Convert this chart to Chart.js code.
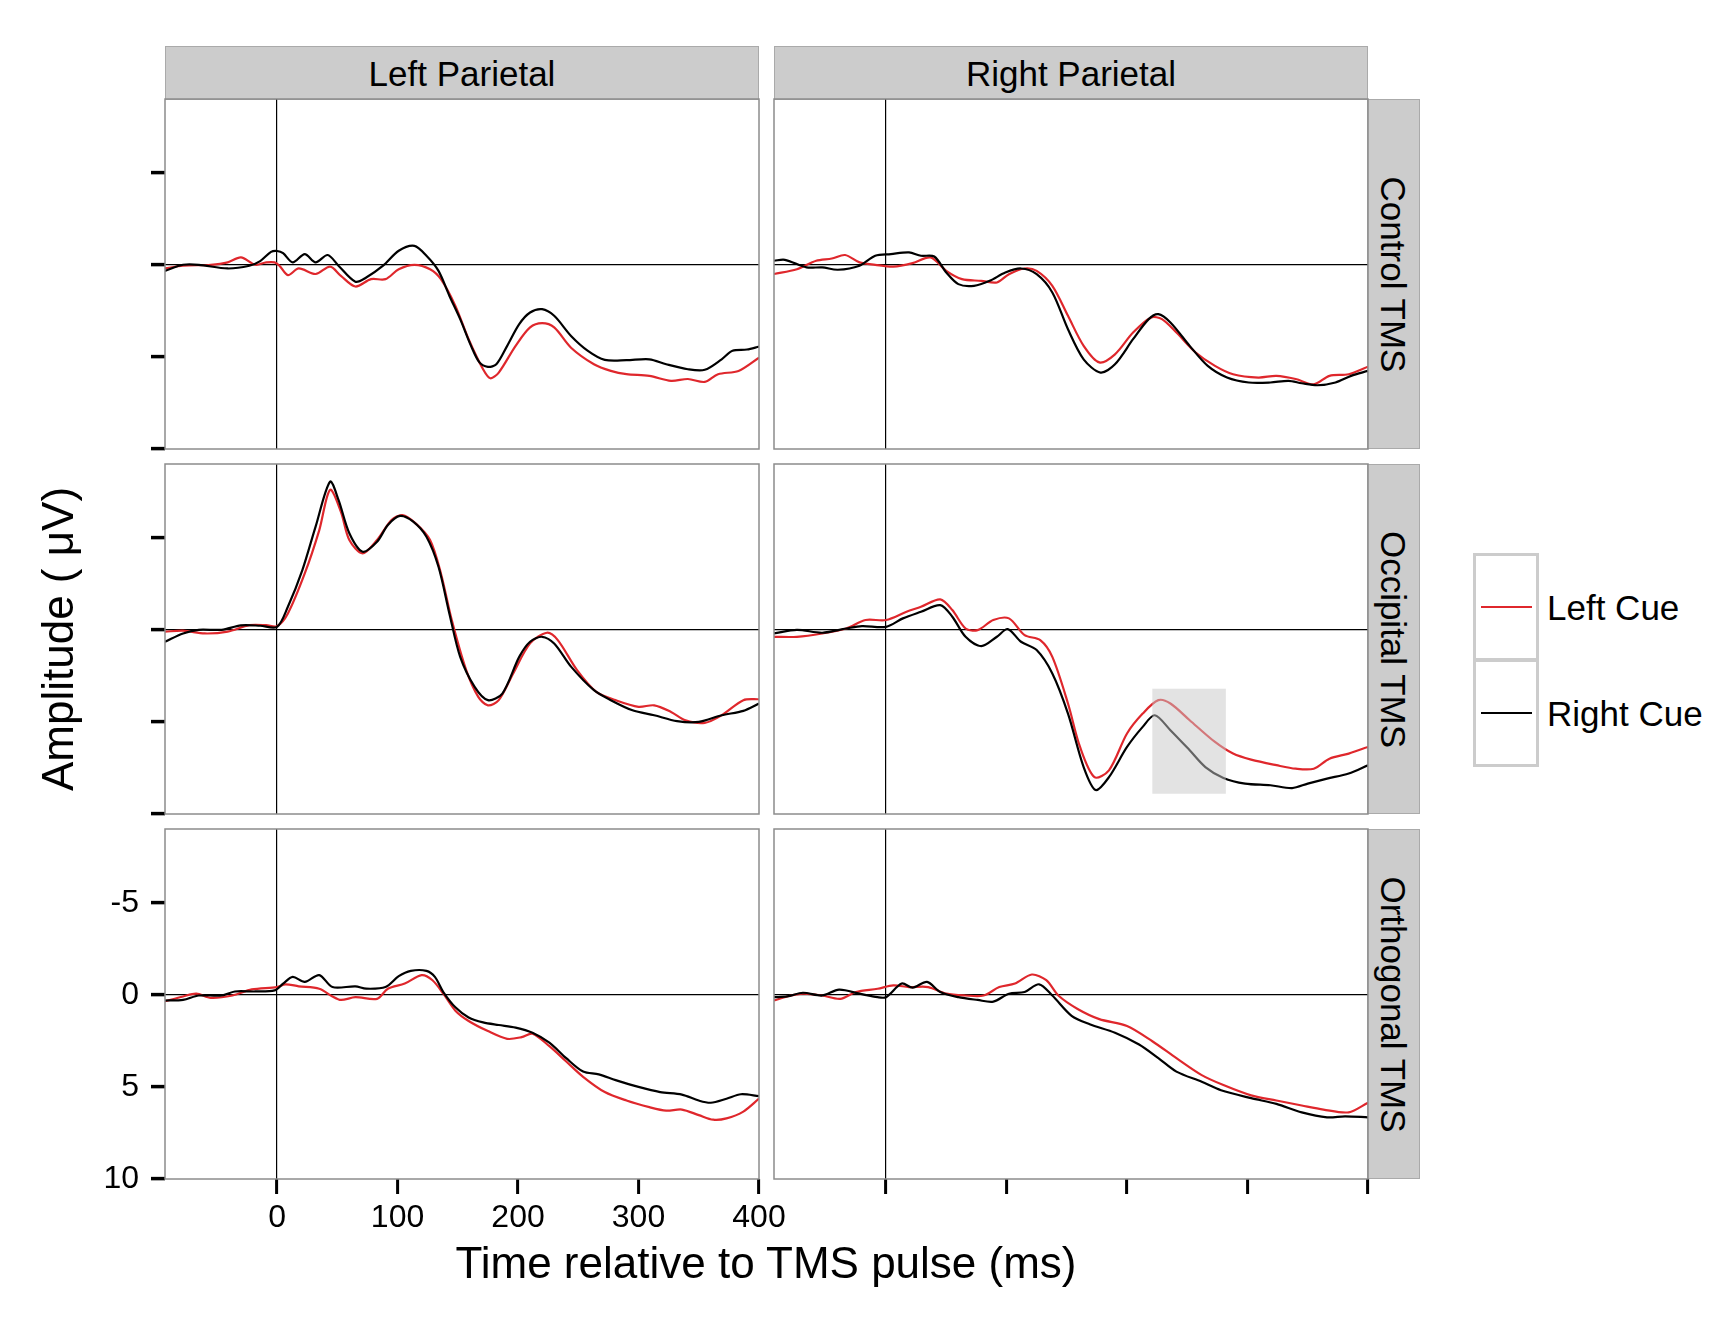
<!DOCTYPE html>
<html>
<head>
<meta charset="utf-8">
<script src="https://cdn.jsdelivr.net/npm/chart.js@4.4.4/dist/chart.umd.min.js"></script>
<style>
  body { margin: 0; background: #fff; }
  #fig {
    position: relative; width: 1736px; height: 1343px; overflow: hidden;
    font-family: 'Liberation Sans', Arial, Helvetica, sans-serif; color: #000;
  }
  #fig canvas { position: absolute; }
  .strip {
    position: absolute; box-sizing: border-box; background: #cccccc;
    border: 1.5px solid #aaaaaa; font-size: 35px; line-height: 35px;
    display: flex; align-items: center; justify-content: center; white-space: nowrap;
  }
  .strip.side span { display: block; transform: rotate(90deg); }
  .title { position: absolute; font-size: 44px; line-height: 44px; text-align: center; white-space: nowrap; }
  .key { position: absolute; box-sizing: border-box; border: 3px solid #cccccc; background: #fff; }
  .keyline { position: absolute; height: 2px; }
  .keylabel { position: absolute; font-size: 35px; line-height: 35px; white-space: nowrap; }
</style>
</head>
<body>
<div id="fig"></div>
<script>
const sites = ['Left Parietal', 'Right Parietal'];
const conditions = ['Control TMS', 'Occipital TMS', 'Orthogonal TMS'];
const cues = ['Left Cue', 'Right Cue'];
const cueColors = ['#df272c', '#000000'];

const timeRange = [-93, 400];
const timeTicks = [0, 100, 200, 300, 400];
const ampRange = [-9, 10];
const ampTicks = [-5, 0, 5, 10];

// shaded window in the occipital / right parietal panel
const highlightTime = [221, 282];
const highlightAmp = [3.2, 8.9];

// [ms, µV]
const ctrlLeftParLeftCue = [[-93,0.2],[-78,0.05],[-55,0],[-41,-0.13],[-30,-0.4],[-18,0],[-9,-0.13],[-2,-0.13],[2,0.05],[9,0.56],[18,0.2],[32,0.5],[44,0.1],[53,0.6],[65,1.18],[78,0.78],[90,0.78],[101,0.24],[114,0],[127,0.24],[136,0.78],[148,2.23],[159,4.04],[171,5.67],[177,6.16],[184,5.85],[198,4.4],[210,3.4],[220,3.17],[230,3.4],[244,4.5],[263,5.4],[277,5.76],[290,5.94],[309,6.03],[327,6.3],[341,6.2],[355,6.36],[366,5.94],[383,5.76],[400,5.04]];
const ctrlLeftParRightCue = [[-93,0.33],[-78,0],[-65,0],[-41,0.2],[-23,0.05],[-14,-0.2],[-5,-0.7],[0,-0.75],[5,-0.63],[13,-0.13],[23,-0.58],[32,-0.13],[42,-0.53],[51,0.05],[65,0.92],[74,0.69],[88,0.05],[101,-0.76],[114,-1.03],[124,-0.49],[134,0.33],[143,1.68],[152,2.95],[161,4.4],[168,5.3],[175,5.54],[182,5.4],[191,4.4],[201,3.22],[210,2.59],[220,2.41],[230,2.77],[244,3.86],[258,4.67],[272,5.16],[290,5.18],[309,5.13],[323,5.4],[341,5.67],[355,5.7],[369,5.13],[378,4.67],[390,4.6],[400,4.44]];
const ctrlRightParLeftCue = [[-93,0.5],[-74,0.24],[-58,-0.22],[-45,-0.34],[-34,-0.53],[-22,-0.13],[-9,0],[6,0.1],[22,-0.09],[37,-0.4],[50,0.33],[63,0.78],[79,0.87],[92,0.96],[102,0.51],[115,0.2],[125,0.33],[138,1.14],[151,2.77],[164,4.4],[177,5.3],[190,4.86],[205,3.68],[220,2.86],[229,2.95],[241,3.68],[257,4.76],[273,5.49],[288,5.94],[309,6.12],[324,6.03],[340,6.2],[355,6.49],[368,6.03],[384,5.94],[400,5.53]];
const ctrlRightParRightCue = [[-93,-0.22],[-84,-0.27],[-66,0.14],[-53,0.14],[-40,0.27],[-22,0.05],[-9,-0.49],[4,-0.58],[19,-0.67],[29,-0.49],[40,-0.45],[50,0.42],[60,1.05],[73,1.14],[86,0.87],[99,0.42],[112,0.2],[125,0.51],[138,1.5],[151,3.5],[164,5.13],[178,5.85],[190,5.4],[205,4.04],[218,2.95],[226,2.68],[236,3.13],[252,4.4],[267,5.49],[283,6.12],[301,6.39],[319,6.39],[334,6.3],[345,6.43],[358,6.54],[373,6.39],[386,6.03],[400,5.76]];

const occLeftParLeftCue = [[-93,0.1],[-78,0.05],[-60,0.2],[-41,0.1],[-23,-0.25],[-9,-0.25],[0,-0.2],[9,-0.89],[23,-3.06],[35,-5.4],[44,-7.6],[53,-6.4],[60,-4.87],[71,-4.15],[83,-4.87],[95,-5.96],[104,-6.23],[115,-5.78],[127,-4.87],[136,-3.06],[145,-0.53],[157,2.19],[167,3.64],[175,4.1],[184,3.82],[196,2.37],[210,0.74],[224,0.16],[233,0.56],[249,2.19],[265,3.37],[281,3.82],[300,4.18],[313,4.1],[327,4.46],[339,4.91],[355,5.05],[369,4.64],[387,3.82],[400,3.77]];
const occLeftParRightCue = [[-93,0.65],[-78,0.2],[-65,0],[-46,0],[-30,-0.24],[-14,-0.22],[0,-0.16],[9,-1.25],[21,-3.24],[32,-5.6],[44,-8.04],[51,-7.05],[60,-5.24],[71,-4.24],[83,-4.78],[92,-5.69],[102,-6.18],[113,-5.87],[124,-5.05],[134,-3.42],[143,-0.89],[152,1.47],[164,3.1],[175,3.82],[187,3.46],[201,1.47],[210,0.65],[220,0.38],[230,0.74],[244,2.0],[263,3.28],[277,3.82],[295,4.37],[313,4.64],[332,4.96],[350,5.0],[369,4.64],[387,4.4],[400,4.0]];
const occRightParLeftCue = [[-93,0.38],[-74,0.38],[-53,0.2],[-33,-0.07],[-17,-0.53],[0,-0.53],[17,-0.98],[29,-1.25],[45,-1.65],[55,-1.07],[66,-0.07],[76,0.02],[89,-0.53],[102,-0.62],[115,0.29],[128,0.56],[138,1.47],[151,4.0],[161,6.36],[173,8.0],[185,7.63],[200,5.63],[213,4.55],[226,3.82],[236,4.0],[252,4.91],[273,6.09],[288,6.72],[303,7.05],[324,7.35],[340,7.54],[355,7.54],[368,7.0],[384,6.72],[400,6.36]];
const occRightParRightCue = [[-93,0.2],[-74,0],[-53,0.16],[-33,-0.07],[-20,-0.2],[0,-0.16],[14,-0.62],[29,-0.98],[45,-1.34],[55,-0.71],[66,0.38],[79,0.89],[92,0.38],[101,-0.04],[112,0.65],[125,1.1],[138,2.37],[151,4.55],[164,7.45],[174,8.7],[185,8.0],[200,6.36],[213,5.27],[223,4.64],[236,5.45],[252,6.54],[265,7.45],[280,8.04],[298,8.35],[319,8.44],[337,8.59],[350,8.35],[366,8.08],[384,7.8],[400,7.35]];

const orthLeftParLeftCue = [[-93,0.35],[-78,0.09],[-67,-0.06],[-55,0.17],[-37,0.04],[-21,-0.29],[0,-0.42],[7,-0.57],[18,-0.46],[35,-0.33],[46,0.09],[53,0.28],[65,0.13],[83,0.22],[92,-0.33],[106,-0.61],[120,-1.07],[129,-0.79],[138,-0.06],[148,0.86],[159,1.42],[175,1.97],[191,2.39],[203,2.3],[212,2.11],[226,2.79],[240,3.62],[254,4.45],[272,5.28],[290,5.74],[309,6.1],[323,6.29],[336,6.23],[350,6.53],[362,6.78],[373,6.71],[387,6.34],[400,5.64]];
const orthLeftParRightCue = [[-93,0.31],[-78,0.28],[-65,0.04],[-46,0.04],[-35,-0.18],[-18,-0.18],[-2,-0.24],[5,-0.6],[13,-0.97],[23,-0.7],[35,-1.07],[46,-0.42],[65,-0.46],[74,-0.33],[90,-0.42],[101,-1.01],[111,-1.3],[124,-1.3],[131,-0.97],[138,-0.15],[148,0.68],[159,1.23],[171,1.5],[184,1.64],[198,1.78],[212,2.06],[226,2.6],[240,3.44],[254,4.17],[267,4.32],[281,4.63],[300,5.0],[318,5.28],[336,5.42],[350,5.74],[360,5.86],[373,5.64],[385,5.4],[400,5.5]];
const orthRightParLeftCue = [[-93,0.31],[-82,0.09],[-69,-0.06],[-53,0.04],[-38,0.22],[-25,-0.15],[-7,-0.33],[6,-0.51],[19,-0.42],[35,-0.42],[50,-0.06],[66,0.04],[81,0.04],[94,-0.42],[107,-0.61],[121,-1.1],[133,-0.79],[143,0.04],[159,0.77],[177,1.32],[200,1.69],[221,2.52],[241,3.44],[262,4.36],[280,4.9],[303,5.46],[324,5.74],[345,6.01],[363,6.23],[384,6.38],[400,5.86]];
const orthRightParRightCue = [[-93,0.13],[-82,0.09],[-69,-0.11],[-53,0.04],[-39,-0.28],[-22,-0.06],[-7,0.13],[0,0.13],[13,-0.61],[22,-0.39],[34,-0.7],[45,-0.15],[60,0.13],[76,0.28],[89,0.37],[102,-0.06],[115,-0.15],[127,-0.57],[138,0.04],[154,1.14],[169,1.6],[190,2.06],[210,2.7],[226,3.44],[241,4.17],[262,4.72],[278,5.18],[303,5.61],[324,5.92],[345,6.38],[366,6.65],[381,6.6],[400,6.65]];

// rows = conditions, cols = sites, each [left cue, right cue]
const curves = [
  [[ctrlLeftParLeftCue, ctrlLeftParRightCue], [ctrlRightParLeftCue, ctrlRightParRightCue]],
  [[occLeftParLeftCue, occLeftParRightCue], [occRightParLeftCue, occRightParRightCue]],
  [[orthLeftParLeftCue, orthLeftParRightCue], [orthRightParLeftCue, orthRightParRightCue]]
];

// layout (page pixels)
const PANEL_LEFT = [165, 774];
const PANEL_TOP = [99, 464, 829];
const PANEL_W = 594, PANEL_H = 350;
const Y_AXIS_W = 120, X_AXIS_H = 80, PAD_TOP = 40, PAD_RIGHT = 40;
const FONT = "'Liberation Sans', Arial, Helvetica, sans-serif";

const fig = document.getElementById('fig');
Chart.defaults.font.family = FONT;

const panelFrame = {
  id: 'panelFrame',
  afterDatasetsDraw(chart, args, opts) {
    const { ctx, chartArea: a } = chart;
    const { x, y } = chart.scales;
    if (opts.highlight) {
      const x0 = x.getPixelForValue(highlightTime[0]);
      const x1 = x.getPixelForValue(highlightTime[1]);
      const y0 = y.getPixelForValue(highlightAmp[0]);
      const y1 = y.getPixelForValue(highlightAmp[1]);
      ctx.save();
      ctx.fillStyle = 'rgba(200, 200, 200, 0.5)';
      ctx.fillRect(x0, Math.min(y0, y1), x1 - x0, Math.abs(y1 - y0));
      ctx.restore();
    }
    ctx.save();
    ctx.strokeStyle = '#8c8c8c';
    ctx.lineWidth = 1.5;
    ctx.strokeRect(a.left, a.top, a.right - a.left, a.bottom - a.top);
    ctx.restore();
  }
};

function zeroOnly(ctx) {
  return ctx.tick && ctx.tick.value === 0 ? '#000' : 'rgba(0,0,0,0)';
}

function makePanel(row, col) {
  const canvas = document.createElement('canvas');
  canvas.width = Y_AXIS_W + PANEL_W + PAD_RIGHT;
  canvas.height = PAD_TOP + PANEL_H + X_AXIS_H;
  canvas.style.width = canvas.width + 'px';
  canvas.style.height = canvas.height + 'px';
  fig.appendChild(canvas);

  const isLeft = col === 0;
  const isBottom = row === conditions.length - 1;

  const datasets = cues.map((cue, i) => ({
    label: cue,
    data: curves[row][col][i].map(([t, v]) => ({ x: t, y: v })),
    borderColor: cueColors[i],
    borderWidth: 2.2,
    pointRadius: 0,
    tension: 0.3,
    fill: false,
    order: cues.length - 1 - i
  }));

  const chart = new Chart(canvas, {
    type: 'line',
    data: { datasets },
    plugins: [panelFrame],
    options: {
      responsive: false,
      maintainAspectRatio: false,
      animation: false,
      events: [],
      layout: { padding: { top: PAD_TOP, right: PAD_RIGHT, left: 0, bottom: 0 } },
      plugins: {
        legend: { display: false },
        tooltip: { enabled: false },
        panelFrame: { highlight: row === 1 && col === 1 }
      },
      scales: {
        x: {
          type: 'linear',
          min: timeRange[0],
          max: timeRange[1],
          afterBuildTicks: axis => { axis.ticks = timeTicks.map(value => ({ value })); },
          afterFit: axis => { axis.height = X_AXIS_H; },
          border: { display: false },
          grid: {
            color: zeroOnly, lineWidth: 1.2,
            drawTicks: isBottom, tickLength: 15, tickWidth: 3, tickColor: '#000'
          },
          ticks: {
            display: isBottom && isLeft, color: '#000', padding: 5,
            font: { size: 32 }, maxRotation: 0, autoSkip: false,
            callback: v => String(v)
          }
        },
        y: {
          type: 'linear',
          reverse: true,
          min: ampRange[0],
          max: ampRange[1],
          afterBuildTicks: axis => { axis.ticks = ampTicks.map(value => ({ value })); },
          afterFit: axis => { axis.width = Y_AXIS_W; },
          border: { display: false },
          grid: {
            color: zeroOnly, lineWidth: 1.2,
            drawTicks: isLeft, tickLength: 14, tickWidth: 3.5, tickColor: '#000'
          },
          ticks: {
            display: isLeft && isBottom, color: '#000', padding: 12,
            font: { size: 32 }, autoSkip: false,
            callback: v => String(v)
          }
        }
      }
    }
  });

  let a = chart.chartArea;
  const dw = PANEL_W - (a.right - a.left);
  const dh = PANEL_H - (a.bottom - a.top);
  if (Math.abs(dw) > 0.5 || Math.abs(dh) > 0.5) {
    chart.resize(canvas.width + dw, canvas.height + dh);
    a = chart.chartArea;
  }
  canvas.style.left = (PANEL_LEFT[col] - a.left) + 'px';
  canvas.style.top = (PANEL_TOP[row] - a.top) + 'px';
}

// strips
sites.forEach((site, col) => {
  const d = document.createElement('div');
  d.className = 'strip';
  d.style.left = PANEL_LEFT[col] + 'px';
  d.style.top = '46px';
  d.style.width = PANEL_W + 'px';
  d.style.height = (PANEL_TOP[0] + 1 - 46) + 'px';
  d.textContent = site;
  fig.appendChild(d);
});
conditions.forEach((cond, row) => {
  const d = document.createElement('div');
  d.className = 'strip side';
  d.style.left = (PANEL_LEFT[1] + PANEL_W - 1) + 'px';
  d.style.top = PANEL_TOP[row] + 'px';
  d.style.width = '53px';
  d.style.height = PANEL_H + 'px';
  const s = document.createElement('span');
  s.textContent = cond;
  d.appendChild(s);
  fig.appendChild(d);
});

for (let r = 0; r < conditions.length; r++) {
  for (let c = 0; c < sites.length; c++) makePanel(r, c);
}

// axis titles
const xTitle = document.createElement('div');
xTitle.className = 'title';
xTitle.style.left = '266px';
xTitle.style.width = '1000px';
xTitle.style.top = '1241px';
xTitle.textContent = 'Time relative to TMS pulse (ms)';
fig.appendChild(xTitle);

const yTitle = document.createElement('div');
yTitle.className = 'title';
yTitle.style.width = '500px';
yTitle.style.height = '44px';
yTitle.style.left = (58 - 250) + 'px';
yTitle.style.top = (639 - 22) + 'px';
yTitle.style.transform = 'rotate(-90deg)';
yTitle.textContent = 'Amplitude ( \u03bcV)';
fig.appendChild(yTitle);

// legend
cues.forEach((cue, i) => {
  const top = 553 + i * 106;
  const box = document.createElement('div');
  box.className = 'key';
  box.style.left = '1473px';
  box.style.top = top + 'px';
  box.style.width = '66px';
  box.style.height = '108px';
  fig.appendChild(box);

  const line = document.createElement('div');
  line.className = 'keyline';
  line.style.left = '1481px';
  line.style.width = '51px';
  line.style.top = (top + 53) + 'px';
  line.style.background = cueColors[i];
  fig.appendChild(line);

  const lab = document.createElement('div');
  lab.className = 'keylabel';
  lab.style.left = '1547px';
  lab.style.top = (top + 54 - 17.5) + 'px';
  lab.textContent = cue;
  fig.appendChild(lab);
});
</script>
</body>
</html>
